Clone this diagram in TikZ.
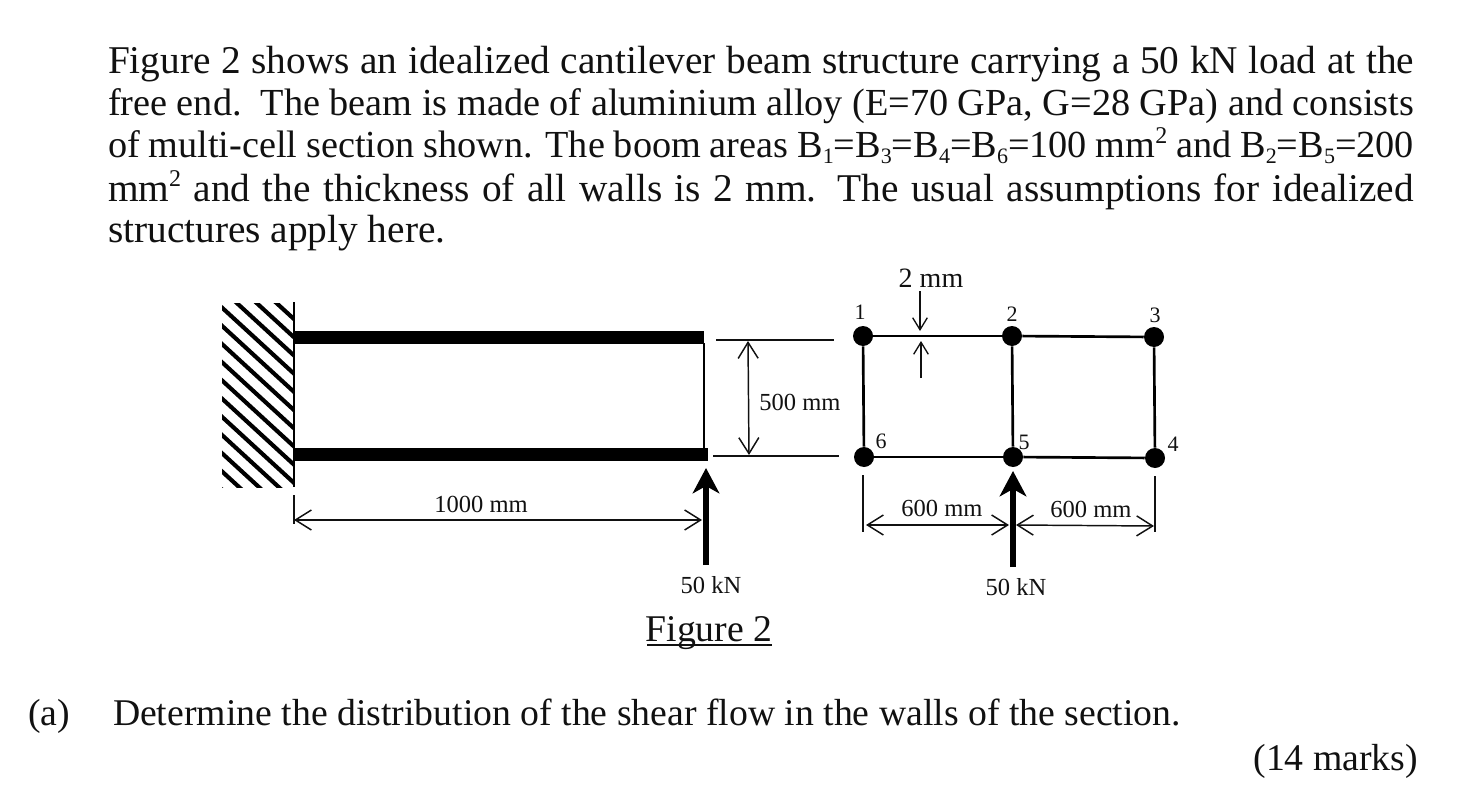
\documentclass[tikz,border=0pt]{standalone}
\usepackage{fontspec}
\setmainfont{Liberation Serif}
\usetikzlibrary{arrows.meta}
\newcommand{\bodyfont}{\fontsize{28.3pt}{32pt}\selectfont}
\newcommand{\parafont}{\fontsize{29.5pt}{32pt}\selectfont}
\newcommand{\tightfont}{\fontsize{28.7pt}{32pt}\selectfont}
\newcommand{\justline}[1]{\hbox to 979.5pt{#1}}
\newcommand{\sbb}[1]{\raisebox{-4.5pt}{\fontsize{16.5pt}{18pt}\selectfont #1}}
\newcommand{\spp}[1]{\raisebox{11pt}{\fontsize{18pt}{18pt}\selectfont #1}}
\definecolor{ink}{HTML}{111111}
\tikzset{
 txt/.style={inner sep=0pt,outer sep=0pt,text=ink,font=\bodyfont,anchor=base west},
 ptxt/.style={inner sep=0pt,outer sep=0pt,text=ink,font=\parafont,anchor=base west},
 ttxt/.style={inner sep=0pt,outer sep=0pt,text=ink,font=\tightfont,anchor=base west},
 dimlab/.style={inner sep=0pt,text=ink,font=\fontsize{18.4pt}{20pt}\selectfont},
 numlab/.style={inner sep=0pt,text=ink,font=\fontsize{16.5pt}{18pt}\selectfont},
 boom/.style={circle,fill=black,minimum size=15pt,inner sep=0pt},
 wall/.style={line width=2pt,black},
 thin line/.style={line width=1pt,ink},
 flange/.style={fill=black,draw=none,inner sep=0pt},
 dimarrow/.style={line width=1.1pt,ink,{Straight Barb[length=12pt,width=15pt,line width=1.1pt]}-{Straight Barb[length=12pt,width=15pt,line width=1.1pt]}},
 onearrow/.style={line width=1pt,ink,-{Straight Barb[length=9pt,width=11pt,line width=1pt]}},
 load/.style={line width=4pt,black,-{Stealth[length=19pt,width=20pt,inset=5.5pt]}},
}
\begin{document}
\begin{tikzpicture}[x=0.75pt,y=-0.75pt]
\useasboundingbox (0,0) rectangle (1478,806);
% text
\node[ptxt] (l1) at (108,74) {\justline{Figure 2 shows an idealized cantilever beam structure carrying a 50 kN load at the}};
\node[ttxt] (l2) at (108,116) {\justline{free end.\ \ The beam is made of aluminium alloy (E=70 GPa, G=28 GPa) and consists}};
\node[ttxt] (l3) at (108,158) {\justline{of multi-cell section shown. The boom areas B\sbb{1}=B\sbb{3}=B\sbb{4}=B\sbb{6}=100 mm\spp{2} and B\sbb{2}=B\sbb{5}=200}};
\node[ptxt] (l4) at (108,201) {\justline{mm\spp{2} and the thickness of all walls is 2 mm. The usual assumptions for idealized}};
\node[ptxt] (l5) at (108,243) {structures apply here.};
\node[txt] (qa) at (28,725) {(a)};
\node[txt] (qt) at (113,725) {Determine the distribution of the shear flow in the walls of the section.};
\node[txt,anchor=base east] (qm) at (1418,770) {(14 marks)};
% wall hatch
\begin{scope}
\clip (222,303) rectangle (293,487);
\foreach \k in {-10,...,12} {
  \draw[line width=3.1pt,black] (215,{283+18.2*\k}) -- (300,{283+18.2*\k+78});
}
\end{scope}
% beam
\coordinate (wt) at (294,302);
\coordinate (wb) at (294,487);
\draw[line width=2.2pt,black] (wt) -- (wb);
\node[flange,minimum width=308.25pt,minimum height=9.75pt,anchor=north west] (top) at (293,331) {};
\node[flange,minimum width=311.25pt,minimum height=9.75pt,anchor=north west] (bot) at (293,448) {};
\coordinate (et) at (704,343);
\coordinate (eb) at (704,449);
\draw[wall] (et) -- (eb);
% 500 mm
\coordinate (a1) at (716,340); \coordinate (a2) at (834,340);
\coordinate (b1) at (713,456); \coordinate (b2) at (839,456);
\draw[thin line] (a1) -- (a2);
\draw[thin line] (b1) -- (b2);
\coordinate (d5a) at (748,341); \coordinate (d5b) at (749,455);
\draw[dimarrow] (d5a) -- (d5b);
\node[dimlab] (t500) at (800,402) {500 mm};
% 1000 mm
\coordinate (e1) at (294,495); \coordinate (e2) at (294,524);
\draw[thin line] (e1) -- (e2);
\coordinate (d1a) at (294,520); \coordinate (d1b) at (702,520);
\draw[dimarrow] (d1a) -- (d1b);
\node[dimlab] (t1000) at (481,504) {1000 mm};
% load
\coordinate (l1a) at (706,565); \coordinate (l1b) at (706,468);
\draw[load] (l1a) -- (l1b);
\node[dimlab] (t50a) at (711,585) {50 kN};
% Figure 2
\node[txt,anchor=base] (fig) at (709,641) {Figure 2};
\coordinate (ua) at (647,645); \coordinate (ub) at (772,645);
\draw[line width=1.2pt,ink] (ua) -- (ub);
% section
\node[boom] (n1) at (863,336) {};
\node[boom] (n2) at (1012,336) {};
\node[boom] (n3) at (1154,337) {};
\node[boom] (n4) at (1155,458) {};
\node[boom] (n5) at (1013,457) {};
\node[boom] (n6) at (864,457) {};
\draw[wall] (n1) -- (n2);
\draw[wall] (n2) -- (n3);
\draw[wall] (n3) -- (n4);
\draw[wall] (n4) -- (n5);
\draw[wall] (n5) -- (n6);
\draw[wall] (n6) -- (n1);
\draw[wall] (n2) -- (n5);
\node[numlab] (t1) at (860,312) {1};
\node[numlab] (t2) at (1012,314) {2};
\node[numlab] (t3) at (1155,315) {3};
\node[numlab] (t4) at (1173,444) {4};
\node[numlab] (t5) at (1024,442) {5};
\node[numlab] (t6) at (881,441) {6};
% 2 mm
\node[dimlab,font=\fontsize{21pt}{22pt}\selectfont] (t2mm) at (931,278) {2 mm};
\coordinate (ta) at (920,291); \coordinate (tb) at (920,331);
\coordinate (tc) at (921,378); \coordinate (td) at (921,341);
\draw[onearrow] (ta) -- (tb);
\draw[onearrow] (tc) -- (td);
% 600 mm
\coordinate (x1) at (863,475); \coordinate (x2) at (863,532);
\coordinate (x3) at (1155,476); \coordinate (x4) at (1155,532);
\draw[thin line] (x1) -- (x2);
\draw[thin line] (x3) -- (x4);
\coordinate (p1) at (866,525); \coordinate (p2) at (1009,525);
\coordinate (p3) at (1016,525); \coordinate (p4) at (1154,526);
\draw[dimarrow] (p1) -- (p2);
\draw[dimarrow] (p3) -- (p4);
\node[dimlab] (t600a) at (942,508) {600 mm};
\node[dimlab] (t600b) at (1091,509) {600 mm};
% load 2
\coordinate (l2a) at (1013,567); \coordinate (l2b) at (1013,471);
\draw[load] (l2a) -- (l2b);
\node[dimlab] (t50b) at (1016,587) {50 kN};
\end{tikzpicture}
\end{document}
